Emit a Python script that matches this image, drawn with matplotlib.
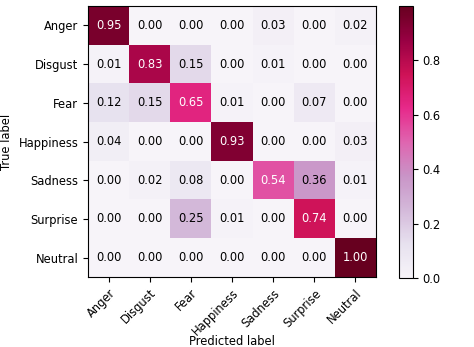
import numpy as np
import matplotlib
matplotlib.use("Agg")
import matplotlib.pyplot as plt

classes = ["Anger", "Disgust", "Fear", "Happiness", "Sadness", "Surprise", "Neutral"]

row_anger     = [0.95, 0.00, 0.00, 0.00, 0.03, 0.00, 0.02]
row_disgust   = [0.01, 0.83, 0.15, 0.00, 0.01, 0.00, 0.00]
row_fear      = [0.12, 0.15, 0.65, 0.01, 0.00, 0.07, 0.00]
row_happiness = [0.04, 0.00, 0.00, 0.93, 0.00, 0.00, 0.03]
row_sadness   = [0.00, 0.02, 0.08, 0.00, 0.54, 0.36, 0.01]
row_surprise  = [0.00, 0.00, 0.25, 0.01, 0.00, 0.74, 0.00]
row_neutral   = [0.00, 0.00, 0.00, 0.00, 0.00, 0.00, 1.00]

cm = np.array([row_anger, row_disgust, row_fear, row_happiness,
               row_sadness, row_surprise, row_neutral])

W, H = 474, 347
dpi = 100
fs = 8.3
fig = plt.figure(figsize=(W / dpi, H / dpi), dpi=dpi)

ax = fig.add_axes([88 / W, 1 - 277 / H, (376 - 88) / W, (277 - 6) / H])
cax = fig.add_axes([399 / W, 1 - 278 / H, (413 - 399) / W, (278 - 6) / H])

im = ax.imshow(cm, cmap="PuRd", vmin=0.0, vmax=1.0, aspect="auto",
               interpolation="nearest")
cb = fig.colorbar(im, cax=cax)
cb.set_ticks([0.0, 0.2, 0.4, 0.6, 0.8])
cb.ax.tick_params(labelsize=fs, length=3.5)
cb.outline.set_linewidth(0.8)

n = len(classes)
ax.set_xticks(np.arange(n))
ax.set_yticks(np.arange(n))
ax.set_xticklabels(classes, rotation=45, ha="right", rotation_mode="anchor",
                   fontsize=fs)
ax.set_yticklabels(classes, fontsize=fs)
ax.tick_params(length=3.5)
ax.set_ylabel("True label", fontsize=fs)
ax.set_xlabel("Predicted label", fontsize=fs, va="top")
ax.yaxis.set_label_coords(-0.262, 0.5)
ax.xaxis.set_label_coords(0.5, -0.214)

thresh = cm.max() / 2.0
for i in range(n):
    for j in range(n):
        v = cm[i, j]
        ax.text(j, i, f"{v:.2f}", ha="center", va="center", fontsize=fs,
                color="white" if v > thresh else "black")

fig.savefig("out.png", dpi=dpi)
